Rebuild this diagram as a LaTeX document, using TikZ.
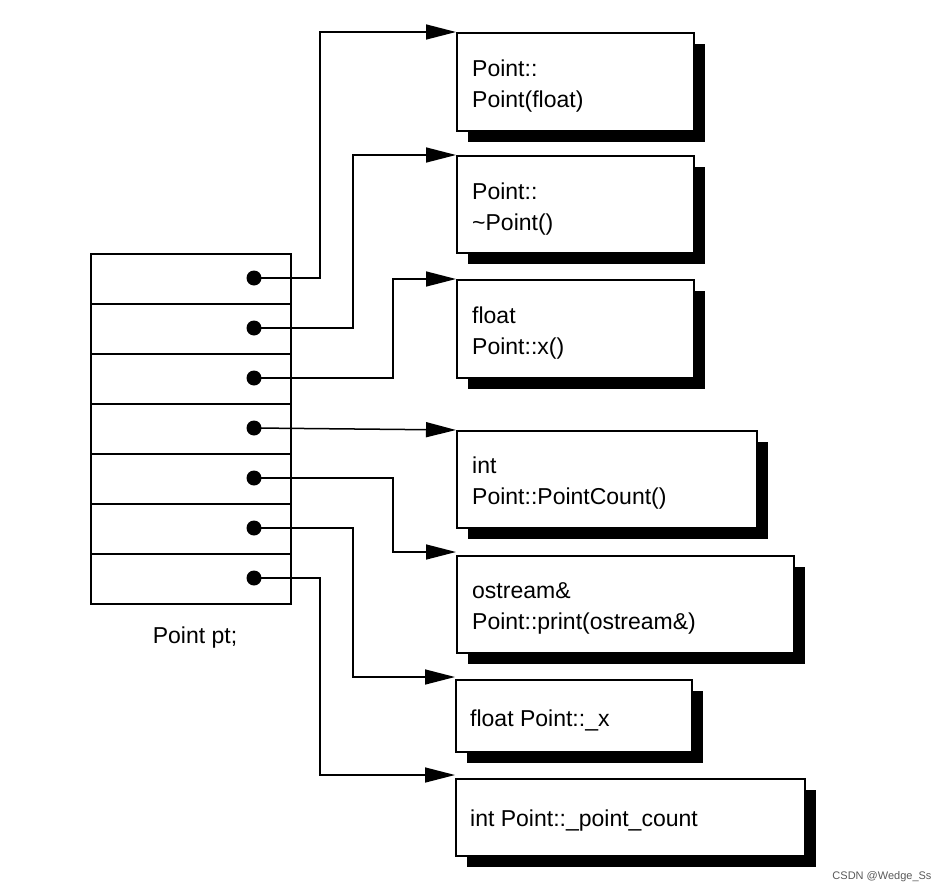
\documentclass[tikz,border=0pt]{standalone}
\usepackage{fontspec}
\setmainfont{Liberation Sans}
\usetikzlibrary{arrows.meta}
\begin{document}
\begin{tikzpicture}[x=1pt,y=-1pt,
  box/.style={draw,line width=1.5pt,fill=white,anchor=north west,minimum height=#1,inner sep=0pt},
  lbl/.style={anchor=west,align=left,font=\fontsize{23}{31}\selectfont,inner sep=0pt},
  cell/.style={draw,line width=1.5pt,minimum width=200,minimum height=50,inner sep=0pt,anchor=north west},
  dot/.style={circle,fill=black,minimum size=15,inner sep=0pt},
  con/.style={line width=1.5pt,-{Triangle[length=30pt,width=15pt]}}]
\useasboundingbox (0,0) rectangle (948,894);
% shadows
\foreach \x/\y/\w/\h in {456/32/237/98, 456/155/237/97, 456/279/237/98, 456/430/300/97, 456/555/337/97, 455/679/236/72, 455/778/349/77}
  \fill (\x+12,\y+12) rectangle (\x+\w+12,\y+\h+12);
\node[box=98,minimum width=237] (b1) at (456,32) {};
\node[box=97,minimum width=237] (b2) at (456,155) {};
\node[box=98,minimum width=237] (b3) at (456,279) {};
\node[box=97,minimum width=300] (b4) at (456,430) {};
\node[box=97,minimum width=337] (b5) at (456,555) {};
\node[box=72,minimum width=236] (b6) at (455,679) {};
\node[box=77,minimum width=349] (b7) at (455,778) {};
\node[lbl] (t1) at (472,86) {Point::\\Point(float)};
\node[lbl] (t2) at (472,209) {Point::\\\textasciitilde Point()};
\node[lbl] (t3) at (472,333) {float\\Point::x()};
\node[lbl] (t4) at (472,483) {int\\Point::PointCount()};
\node[lbl] (t5) at (472,608) {ostream\&\\Point::print(ostream\&)};
\node[lbl] (t6) at (470,720) {float Point::\_x};
\node[lbl] (t7) at (470,821) {int Point::\_point\_count};
\foreach \i in {1,...,7} {
  \node[cell] (c\i) at (90,253+50*\i-50) {};
  \node[dot] (d\i) at (254,278+50*\i-50) {};
}
\node[font=\fontsize{23}{28}\selectfont] (pt) at (195,638) {Point pt;};
\node[font=\fontsize{11}{13}\selectfont,text=gray!70!black,anchor=east] (wm) at (935,877) {CSDN @Wedge\_Ss};
\draw[con] (d1.center) -| (320,32) -- (b1.north west);
\draw[con] (d2.center) -| (353,155) -- (b2.north west);
\draw[con] (d3.center) -| (393,279) -- (b3.north west);
\draw[con] (d4.center) -- (b4.north west);
\draw[con] (d5.center) -| (393,552) -- (456,552);
\draw[con] (d6.center) -| (353,677) -- (455,677);
\draw[con] (d7.center) -| (320,775) -- (455,775);
\end{tikzpicture}
\end{document}
